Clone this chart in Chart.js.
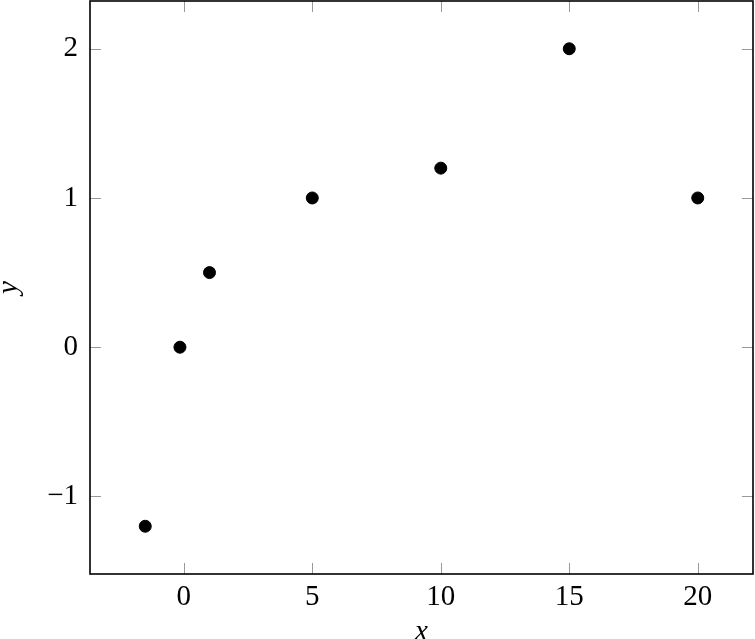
<!DOCTYPE html>
<html>
<head>
<meta charset="utf-8">
<script src="https://cdn.jsdelivr.net/npm/chart.js@4/dist/chart.umd.min.js"></script>
<style>
  html, body { margin: 0; padding: 0; background: #fff; }
  #wrap { width: 755px; height: 639px; }
</style>
</head>
<body>
<div id="wrap"><canvas id="plot" width="755" height="639"></canvas></div>
<script>
const xs = [-1.5, -0.15, 1, 5, 10, 15, 20]
const ys = [-1.2, 0, 0.5, 1, 1.2, 2, 1]
const xTicks = [0, 5, 10, 15, 20]
const yTicks = [-1, 0, 1, 2]

const points = xs.map((x, i) => ({ x: x, y: ys[i] }))

const serif = 'Liberation Serif'

// pgfplots-like frame with ticks on all four sides, pointing inward
const frame = {
  id: 'frame',
  afterDatasetsDraw(chart) {
    const { ctx, chartArea: a, scales } = chart
    ctx.save()
    ctx.strokeStyle = '#999'
    ctx.lineWidth = 1
    const len = 11
    xTicks.forEach((v) => {
      const px = Math.round(scales.x.getPixelForValue(v)) + 0.5
      ctx.beginPath()
      ctx.moveTo(px, a.bottom); ctx.lineTo(px, a.bottom - len)
      ctx.moveTo(px, a.top); ctx.lineTo(px, a.top + len)
      ctx.stroke()
    })
    yTicks.forEach((v) => {
      const py = Math.round(scales.y.getPixelForValue(v)) + 0.5
      ctx.beginPath()
      ctx.moveTo(a.left, py); ctx.lineTo(a.left + len, py)
      ctx.moveTo(a.right, py); ctx.lineTo(a.right - len, py)
      ctx.stroke()
    })
    ctx.strokeStyle = '#000'
    ctx.lineWidth = 1.6
    ctx.strokeRect(a.left, a.top, a.right - a.left, a.bottom - a.top)
    ctx.restore()
  }
}

const minus = (v) => String(v).replace('-', '\u2212')

// fixed scale boxes, no extra room for edge labels
const noPad = (s) => {
  s.paddingTop = 0
  s.paddingBottom = 0
  s.paddingLeft = 0
  s.paddingRight = 0
}

new Chart(document.getElementById('plot').getContext('2d'), {
  type: 'scatter',
  data: {
    datasets: [
      {
        data: points,
        backgroundColor: '#000',
        borderColor: '#000',
        pointRadius: 6,
        pointHoverRadius: 6
      }
    ]
  },
  options: {
    responsive: false,
    animation: false,
    layout: { autoPadding: false, padding: { top: 1, right: 2, left: 0, bottom: 0 } },
    plugins: {
      legend: { display: false },
      tooltip: { enabled: false }
    },
    scales: {
      x: {
        type: 'linear',
        min: -3.65,
        max: 22.15,
        grid: { display: false, drawTicks: false },
        border: { display: false },
        afterFit: (s) => { s.height = 65; noPad(s) },
        ticks: {
          stepSize: 5,
          includeBounds: false,
          padding: 6,
          color: '#000',
          font: { family: serif, size: 29 },
          callback: minus
        },
        title: {
          display: true,
          text: 'x',
          color: '#000',
          padding: { top: 0, bottom: -11 },
          font: { family: serif, size: 29, style: 'italic' }
        }
      },
      y: {
        type: 'linear',
        min: -1.52,
        max: 2.32,
        grid: { display: false, drawTicks: false },
        border: { display: false },
        afterFit: (s) => { s.width = 90; noPad(s) },
        ticks: {
          stepSize: 1,
          includeBounds: false,
          padding: 12,
          color: '#000',
          font: { family: serif, size: 29 },
          callback: minus
        },
        title: {
          display: true,
          text: 'y',
          color: '#000',
          padding: { top: -8, bottom: 0 },
          font: { family: serif, size: 29, style: 'italic' }
        }
      }
    }
  },
  plugins: [frame]
})
</script>
</body>
</html>
